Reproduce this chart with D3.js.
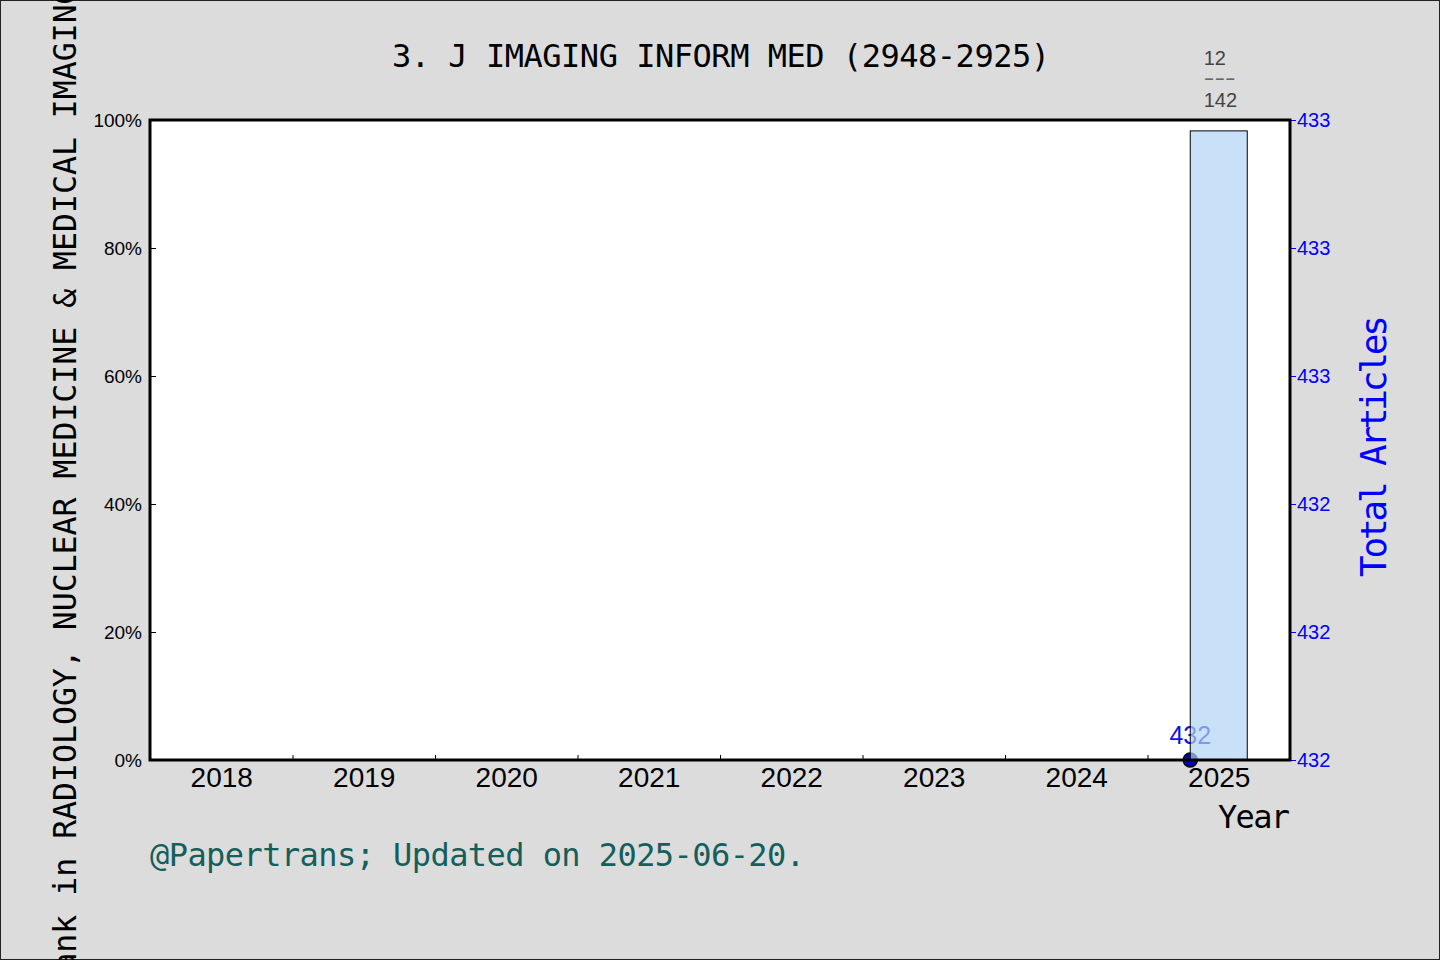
<!DOCTYPE html>
<html><head><meta charset="utf-8">
<script src="https://cdn.jsdelivr.net/npm/d3@7"></script>
<style>html,body{margin:0;padding:0;background:#dcdcdc;}svg{display:block;}</style>
</head><body>
<svg id="chart" width="1440" height="960"></svg>
<script>
// ---- data ----
const title = "3. J IMAGING INFORM MED (2948-2925)";
const years = [2018, 2019, 2020, 2021, 2022, 2023, 2024, 2025];
const barYears = [2025];
const barValues = [98.3];           // % (left axis)
const rankNum = [12];               // rank annotation numerator
const rankDen = [142];              // rank annotation denominator
const articleYears = [2025];
const articleValues = [432];        // total articles (right axis)
const leftTicks = [0, 20, 40, 60, 80, 100];
const rightTicks = [432, 432.2, 432.4, 432.6, 432.8, 433];
const yLabel = "Rank in RADIOLOGY, NUCLEAR MEDICINE & MEDICAL IMAGING";
const yLabelRight = "Total Articles";
const xLabel = "Year";
const footer = "@Papertrans; Updated on 2025-06-20.";

// ---- layout ----
const W = 1440, H = 960;
const X0 = 150, X1 = 1290, Y0 = 120, Y1 = 760;
const MONO = "'DejaVu Sans Mono', monospace";
const SANS = "'Liberation Sans', Arial, sans-serif";

const svg = d3.select("#chart");
svg.append("rect").attr("x", 0.5).attr("y", 0.5).attr("width", W - 1).attr("height", H - 1)
  .attr("fill", "#dcdcdc").attr("stroke", "#222").attr("stroke-width", 1);

const x = d3.scaleLinear().domain([2017.5, 2025.5]).range([X0, X1]);
const y = d3.scaleLinear().domain([0, 100]).range([Y1, Y0]);
const yR = d3.scaleLinear().domain([432, 433]).range([Y1, Y0]);

svg.append("rect").attr("x", X0).attr("y", Y0).attr("width", X1 - X0).attr("height", Y1 - Y0)
  .attr("fill", "#ffffff");

// articles point + label (drawn under bars)
articleYears.forEach((yr, i) => {
  const cx = x(yr - 0.2), cy = yR(articleValues[i]);
  svg.append("text").attr("x", cx).attr("y", cy - 16).attr("text-anchor", "middle")
    .attr("font-family", SANS).attr("font-size", 25).attr("fill", "#1010e0")
    .text(d3.format(".0f")(articleValues[i]));
  svg.append("circle").attr("cx", cx).attr("cy", cy).attr("r", 7)
    .attr("fill", "#0000b8").attr("stroke", "#000").attr("stroke-width", 1.5);
});

// bars
const bw = 0.4;
barYears.forEach((yr, i) => {
  svg.append("rect")
    .attr("x", x(yr - bw / 2)).attr("y", y(barValues[i]))
    .attr("width", x(yr + bw / 2) - x(yr - bw / 2)).attr("height", y(0) - y(barValues[i]))
    .attr("fill", "rgb(176,212,245)").attr("fill-opacity", 0.7)
    .attr("stroke", "#000").attr("stroke-width", 1);
  // rank annotation
  const ax = x(yr) - 15;
  const g = svg.append("g").attr("font-family", SANS).attr("font-size", 20).attr("fill", "#444");
  g.append("text").attr("x", ax).attr("y", 65).text(rankNum[i]);
  g.append("text").attr("x", ax).attr("y", 85).attr("textLength", 32)
    .attr("lengthAdjust", "spacingAndGlyphs").attr("fill", "#666").text("---");
  g.append("text").attr("x", ax).attr("y", 107).text(rankDen[i]);
});

// x axis labels (no ticks) and inward boundary ticks
const xa = svg.append("g").attr("transform", `translate(0,${Y1})`)
  .call(d3.axisBottom(x).tickValues(years).tickFormat(d3.format("d")).tickSize(0).tickPadding(7));
xa.select(".domain").remove();
xa.selectAll("text").attr("font-family", SANS).attr("font-size", 28).attr("fill", "#000");
const xt = svg.append("g").attr("transform", `translate(0,${Y1})`)
  .call(d3.axisBottom(x).tickValues(years.slice(0, -1).map(d => d + 0.5)).tickFormat("").tickSize(-5));
xt.select(".domain").remove();
xt.selectAll("line").attr("stroke", "#000").attr("stroke-width", 1);

// left axis
const la = svg.append("g").attr("transform", `translate(${X0},0)`)
  .call(d3.axisLeft(y).tickValues(leftTicks).tickFormat(d => d + "%").tickSize(-6).tickPadding(8));
la.select(".domain").remove();
la.selectAll("line").attr("stroke", "#000");
la.selectAll("text").attr("font-family", SANS).attr("font-size", 19).attr("fill", "#000");

// right axis
const ra = svg.append("g").attr("transform", `translate(${X1},0)`)
  .call(d3.axisRight(yR).tickValues(rightTicks).tickFormat(d3.format(".0f")).tickSize(6).tickPadding(1));
ra.select(".domain").remove();
ra.selectAll("line").attr("stroke", "#0000ff");
ra.selectAll("text").attr("font-family", SANS).attr("font-size", 20).attr("fill", "#0000ff");

// spines
svg.append("rect").attr("x", X0).attr("y", Y0).attr("width", X1 - X0).attr("height", Y1 - Y0)
  .attr("fill", "none").attr("stroke", "#000").attr("stroke-width", 3);

// title
svg.append("text").attr("x", (X0 + X1) / 2 + 1).attr("y", 67).attr("text-anchor", "middle")
  .attr("font-family", MONO).attr("font-size", 32).attr("fill", "#000")
  .attr("textLength", 658).attr("lengthAdjust", "spacing").text(title);

// left y label (cut off at the figure edges, as in the original)
svg.append("text").attr("transform", "translate(76,488) rotate(-90)").attr("text-anchor", "middle")
  .attr("font-family", MONO).attr("font-size", 31.5).attr("fill", "#000")
  .text(yLabel);

// right y label
svg.append("text").attr("transform", "translate(1386,446) rotate(-90)").attr("text-anchor", "middle")
  .attr("font-family", MONO).attr("font-size", 36).attr("fill", "#0000ff")
  .attr("textLength", 262).attr("lengthAdjust", "spacing").text(yLabelRight);

// x label
svg.append("text").attr("x", 1218).attr("y", 828)
  .attr("font-family", MONO).attr("font-size", 32).attr("fill", "#000")
  .attr("textLength", 72).attr("lengthAdjust", "spacing").text(xLabel);

// footer
svg.append("text").attr("x", 150).attr("y", 866)
  .attr("font-family", MONO).attr("font-size", 32).attr("fill", "#145f5a")
  .attr("textLength", 655).attr("lengthAdjust", "spacing").text(footer);
</script>
</body></html>
